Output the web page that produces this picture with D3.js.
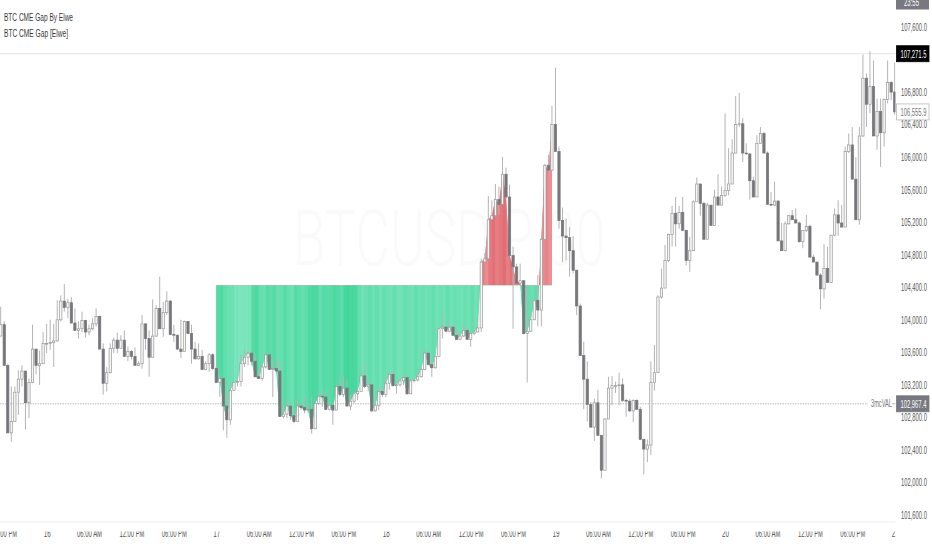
<!DOCTYPE html>
<html>
<head>
    <meta http-equiv="content-type" content="text/html; charset=UTF-8">
    <title>BTC CME Gap</title>
    <script src="https://cdnjs.cloudflare.com/ajax/libs/d3/7.9.0/d3.min.js"></script>
    <style>
        html, body { margin: 0; padding: 0; background: #fff; }
        svg { display: block; }
        text { font-family: "Liberation Sans Narrow", "Liberation Sans", sans-serif; }
        .candles { filter: blur(0.35px); }
        .gap { filter: blur(0.6px); }
    </style>
</head>
<body>

<div class="container"></div>

<script>

    // 30 minute candles. open = previous close
    var firstOpen = 103800;
    var closes = [
        103940,103440,102610,102750,103110,103270,103370,102980,103230,103640,
        103440,103460,103710,103710,103720,103740,104000,104230,104150,104210,
        103960,103870,103890,103990,103850,103890,103950,104040,103640,103220,
        103350,103650,103750,103650,103750,103550,103610,103550,103440,103460,
        103950,103770,103540,103800,104140,103890,104090,104230,103820,103810,
        103640,103610,103980,103830,103640,103520,103550,103390,103460,103570,
        103400,103230,103280,102940,102770,103130,103230,103240,103460,103540,
        103590,103490,103300,103280,103420,103570,103390,103400,103370,102810,
        102840,102940,102820,102750,102940,102920,102890,102900,102660,102970,
        103060,103050,102900,102950,102890,103180,103080,103160,102940,103000,
        103090,103120,103310,103180,103200,102880,102950,103120,103080,103220,
        103330,103190,103200,103250,103290,103090,103250,103260,103300,103390,
        103590,103450,103410,103550,103890,103910,103860,103910,103810,103760,
        103800,103870,103760,103830,103850,103900,104710,104750,105230,105280,
        105480,105420,105790,105510,104790,104650,104450,104480,103830,103860,
        104000,104240,104120,104990,105900,105840,106400,106070,105220,105030,
        105010,104850,104610,104170,103560,103270,102960,102680,102980,102580,
        102150,102780,103160,103190,103190,103200,103010,103000,102880,103010,
        102900,102530,102410,102460,103230,103350,104280,104390,104730,105050,
        105310,105180,105320,105100,104730,104850,105450,105670,105430,104990,
        105410,105160,105510,105410,105530,105590,105670,106050,106400,106410,
        106050,106040,105710,105510,106170,106290,106050,105420,105410,105460,
        104970,104850,105180,105280,105230,105190,104960,105100,105150,104770,
        104710,104550,104380,104630,104460,105040,105290,105190,105140,106070,
        106150,105730,105230,106260,106970,106650,106870,106260,106560,106300,
        106710,106920,106800,106555.9
    ];
    var highs = [
        104160,103980,103460,103180,103180,103380,103440,103370,103280,103940,
        103640,103620,103850,103950,104000,103950,104240,104300,104440,104260,
        104280,104140,103980,104100,104000,103940,104020,104140,104050,103710,
        103420,103710,103780,103840,103810,103870,103670,103630,103660,103490,
        104060,103950,103870,104250,104180,104530,104220,104350,104240,103940,
        103820,104000,103990,103980,103940,103730,103710,103630,103490,103590,
        103590,103440,103340,103300,103100,103220,103230,103300,103570,103630,
        103610,103630,103570,103380,103440,103590,103590,103510,103510,103490,
        102950,103030,102970,102890,103030,102990,103050,102950,103050,102990,
        103100,103140,103120,102990,102970,103200,103300,103300,103260,103080,
        103120,103160,103380,103460,103260,103220,102990,103160,103180,103300,
        103360,103380,103240,103280,103320,103310,103260,103280,103360,103410,
        103630,103610,103510,103550,103920,104080,103940,104000,103940,103890,
        103850,103940,103940,103850,103890,104020,104750,104820,105520,105470,
        105670,105640,106000,105870,105660,104900,104690,104690,104490,104430,
        104060,104260,104550,105020,105920,106030,106630,107100,106130,105380,
        105250,105140,105030,104610,104200,103730,103490,102990,103030,103140,
        102580,102790,103300,103310,103240,103350,103280,103030,103030,103020,
        103020,102930,102540,102530,103490,103690,104300,104630,104920,105060,
        105400,105510,105400,105510,105100,105020,105470,105750,105670,105450,
        105440,105410,105600,105790,105640,106540,106110,106220,106750,106790,
        106480,106170,106040,105760,106270,106370,106310,106070,105570,105700,
        105470,105190,105210,105290,105350,105370,105210,105100,105290,105170,
        104800,104710,104570,104930,104900,105040,105370,105470,105410,106130,
        106290,106370,106000,106370,107260,107030,107300,107190,106720,106720,
        106720,107190,106930,107160
    ];
    var lows = [
        103870,103440,102610,102500,102830,102830,103180,102650,102790,103220,
        103330,103200,103460,103590,103630,103420,103730,103980,104100,104020,
        103960,103870,103770,103850,103780,103810,103870,103920,103640,103080,
        103120,103340,103590,103590,103650,103550,103490,103510,103440,103430,
        103400,103630,103300,103540,103790,103890,103790,104060,103810,103730,
        103630,103530,103610,103830,103460,103510,103510,103380,103380,103360,
        103380,103220,103050,102640,102550,102710,103130,103180,103180,103420,
        103440,103440,103290,103270,103250,103400,103390,103050,103340,102810,
        102790,102790,102770,102730,102750,102890,102850,102850,102600,102660,
        102950,102930,102890,102890,102710,102890,103060,103050,102930,102890,
        102970,103010,103120,103160,103120,102870,102870,102890,103050,103050,
        103140,103180,103090,103180,103200,103080,103090,103230,103240,103290,
        103380,103440,103300,103400,103550,103770,103850,103850,103800,103750,
        103750,103790,103760,103670,103810,103850,103850,104710,104750,105230,
        105270,105290,105430,105490,104790,103890,104440,104430,103820,103230,
        103850,104000,103920,103920,104980,105830,105830,106070,105120,104710,
        104730,104530,104570,104060,103560,102900,102750,102680,102510,102570,
        102050,102150,102780,102950,103100,102950,102990,102810,102870,102740,
        102890,102530,102100,102250,102340,103130,103350,104260,104390,104710,
        104900,104900,105120,105100,104670,104590,104850,105450,105280,104990,
        104990,105160,105160,105410,105410,105510,105530,105670,106050,106370,
        105940,106030,105480,105510,105510,106170,106050,105420,105400,105400,
        104970,104850,104840,105170,105230,105190,104950,104880,105080,104770,
        104710,104540,104130,104260,104450,104450,105030,105030,105140,105140,
        106050,105720,105230,105170,106250,106370,106540,106260,106090,105880,
        106130,106660,106700,106520
    ];

    // CME gap: level, first candle, and how strong each bar's band looks (0-100)
    var gapLevel = 104425;
    var gapStart = 61;
    var gapStrength = [
        70,80,55,40,35,15,10,10,10,20,
        70,85,50,40,70,60,70,40,50,70,
        45,35,70,60,45,60,80,90,85,50,
        70,65,70,85,75,60,95,100,95,90,
        50,30,40,55,35,50,30,45,35,30,
        45,30,30,45,35,30,50,35,40,30,
        35,50,30,40,30,50,30,40,35,30,
        40,30,50,30,40,60,40,70,85,60,
        75,90,60,80,55,70,60,40,50,40,
        60,70,40,50,30,60
    ];

    var priceTicks = [101600,102000,102400,102800,103200,103600,104000,104400,104800,105200,105600,106000,106400,106800,107600];
    var timeLabels = ['06:00 PM','16','06:00 AM','12:00 PM','06:00 PM','17','06:00 AM','12:00 PM','06:00 PM','18','06:00 AM','12:00 PM','06:00 PM','19','06:00 AM','12:00 PM','06:00 PM','20','06:00 AM','12:00 PM','06:00 PM','21'];
    var timeTickFirst = 1, timeTickStep = 12;

    var lastHigh = 107271.5, lastClose = 106555.9, valLevel = 102967.4;
    var titles = ['BTC CME Gap By Elwe', 'BTC CME Gap [Elwe]'];

    var width = 932, height = 550, paneRight = 895.5, paneBottom = 522;

    var svg = d3.select('.container').append('svg').attr('width', width).attr('height', height);

    var x = d3.scaleLinear().domain([0, closes.length - 1]).range([0.7, 894.7]);
    var y = d3.scaleLinear().domain([101600, 107600]).range([515, 27]);

    var opens = closes.map(function (c, i) { return i ? closes[i - 1] : firstOpen; });

    var defs = svg.append('defs');
    defs.append('clipPath').attr('id', 'pane').append('rect')
        .attr('x', 0).attr('y', 0).attr('width', paneRight).attr('height', height);
    defs.append('clipPath').attr('id', 'above').append('rect')
        .attr('x', 0).attr('y', 0).attr('width', paneRight).attr('height', y(gapLevel));
    defs.append('clipPath').attr('id', 'below').append('rect')
        .attr('x', 0).attr('y', y(gapLevel)).attr('width', paneRight).attr('height', paneBottom - y(gapLevel));

    // watermark
    svg.append('text').attr('x', 293).attr('y', 265)
        .attr('font-size', 78)
        .attr('textLength', 312).attr('lengthAdjust', 'spacingAndGlyphs')
        .style('font-family', 'Roboto, sans-serif')
        .style('font-weight', 300)
        .attr('fill', '#fafafa')
        .text('BTCUSD.P 30');

    // price lines
    svg.append('line').attr('x1', 0).attr('x2', paneRight).attr('y1', y(lastHigh)).attr('y2', y(lastHigh))
        .attr('stroke', '#e4e4e4').attr('stroke-width', 1);
    svg.append('line').attr('x1', 0).attr('x2', 868).attr('y1', y(valLevel)).attr('y2', y(valLevel))
        .attr('stroke', '#a8a8a8').attr('stroke-width', 0.8).attr('stroke-dasharray', '1.5 1');
    svg.append('line').attr('x1', 892).attr('x2', paneRight).attr('y1', y(valLevel)).attr('y2', y(valLevel))
        .attr('stroke', '#a8a8a8').attr('stroke-width', 0.8);

    // gap fill, one band per bar between the level and the close
    var gapBars = gapStrength.slice(0, -1).map(function (s, k) {
        return { i: gapStart + k, strength: s };
    });
    var greenShade = d3.scaleLinear().domain([0, 100]).range(['#84e7c2', '#42d69b']);
    var redShade = d3.scaleLinear().domain([0, 100]).range(['#efa3a5', '#e0676e']);
    var band = d3.area()
        .x(function (i) { return x(i); })
        .y0(y(gapLevel))
        .y1(function (i) { return y(closes[i]); });
    var gapBase = d3.range(gapStart, gapStart + gapStrength.length);

    var gapLayer = svg.append('g').attr('class', 'gap');
    gapLayer.append('path').attr('d', band(gapBase)).attr('fill', greenShade(50)).attr('clip-path', 'url(#below)');
    gapLayer.append('path').attr('d', band(gapBase)).attr('fill', redShade(50)).attr('clip-path', 'url(#above)');
    gapLayer.selectAll('.green').data(gapBars).enter().append('path')
        .attr('class', 'green')
        .attr('clip-path', 'url(#below)')
        .attr('fill', function (d) { return greenShade(d.strength); })
        .attr('d', function (d) { return band([d.i, d.i + 1]); });
    gapLayer.selectAll('.red').data(gapBars).enter().append('path')
        .attr('class', 'red')
        .attr('clip-path', 'url(#above)')
        .attr('fill', function (d) { return redShade(d.strength); })
        .attr('d', function (d) { return band([d.i, d.i + 1]); });

    // candles
    var bodyWidth = 2.3;
    var candles = svg.append('g').attr('class', 'candles').attr('clip-path', 'url(#pane)')
        .selectAll('g').data(d3.range(closes.length)).enter().append('g');

    candles.append('line')
        .attr('x1', function (i) { return x(i); })
        .attr('x2', function (i) { return x(i); })
        .attr('y1', function (i) { return y(highs[i]); })
        .attr('y2', function (i) { return y(lows[i]); })
        .attr('stroke', '#b4b4b4').attr('stroke-width', 1);

    candles.append('rect')
        .attr('x', function (i) { return x(i) - bodyWidth / 2; })
        .attr('width', bodyWidth)
        .attr('y', function (i) { return y(Math.max(opens[i], closes[i])); })
        .attr('height', function (i) { return Math.max(0.8, Math.abs(y(opens[i]) - y(closes[i]))); })
        .attr('fill', function (i) { return closes[i] >= opens[i] ? '#f8f8f8' : '#77777b'; })
        .attr('stroke', function (i) { return closes[i] >= opens[i] ? '#989898' : '#77777b'; })
        .attr('stroke-width', 0.7);

    // axes
    var squeeze = function (sel, w) {
        sel.attr('textLength', function () { return this.textContent.length <= 2 ? 7 : w; })
           .attr('lengthAdjust', 'spacingAndGlyphs');
    };

    var yAxis = d3.axisRight(y).tickValues(priceTicks).tickSize(0).tickPadding(0).tickFormat(d3.format(',.1f'));
    svg.append('g').attr('transform', 'translate(901,0)').call(yAxis)
        .call(function (g) { g.select('.domain').remove(); })
        .selectAll('text')
        .attr('font-size', 10.5).attr('fill', '#555')
        .style('font-family', '"Liberation Sans Narrow", sans-serif')
        .call(squeeze, 26);

    svg.append('line').attr('x1', 0).attr('x2', paneRight).attr('y1', paneBottom).attr('y2', paneBottom)
        .attr('stroke', '#ececec');

    var timeTicks = timeLabels.map(function (d, k) { return timeTickFirst + k * timeTickStep; });
    var xAxis = d3.axisBottom(x).tickValues(timeTicks).tickSize(0).tickPadding(0)
        .tickFormat(function (d, k) { return timeLabels[k]; });
    svg.append('g').attr('transform', 'translate(0,531.5)').attr('clip-path', 'url(#pane)').call(xAxis)
        .call(function (g) { g.select('.domain').remove(); })
        .selectAll('text')
        .attr('font-size', 10.5).attr('fill', '#555').attr('dy', '0.55em')
        .style('font-family', '"Liberation Sans Narrow", sans-serif')
        .call(squeeze, 25);

    // legend
    svg.selectAll('.title').data(titles).enter().append('text')
        .attr('class', 'title')
        .attr('x', 4)
        .attr('y', function (d, k) { return 21 + k * 16; })
        .attr('font-size', 11).attr('fill', '#3a3a3a')
        .attr('textLength', function (d, k) { return k ? 64 : 69; })
        .attr('lengthAdjust', 'spacingAndGlyphs')
        .text(function (d) { return d; });

    // price labels on the scale
    var priceLabel = function (value, fill, stroke, color) {
        var cy = y(value);
        svg.append('rect').attr('x', 896.5).attr('y', cy - 8).attr('width', 32.5).attr('height', 16)
            .attr('fill', fill).attr('stroke', stroke).attr('stroke-width', 0.8);
        svg.append('text').attr('x', 900.5).attr('y', cy + 4)
            .attr('font-size', 10.5).attr('fill', color)
            .attr('textLength', 26).attr('lengthAdjust', 'spacingAndGlyphs')
            .text(d3.format(',.1f')(value));
    };
    priceLabel(lastHigh, '#000', '#000', '#fff');
    priceLabel(lastClose, '#fff', '#b8b8b8', '#777');
    priceLabel(valLevel, '#787880', '#787880', '#fff');

    svg.append('text').attr('x', 871).attr('y', y(valLevel) + 3.5)
        .attr('font-size', 10).attr('fill', '#777')
        .attr('textLength', 21).attr('lengthAdjust', 'spacingAndGlyphs')
        .text('3mcVAL');

    // countdown box cut by the top edge
    svg.append('rect').attr('x', 896).attr('y', 0).attr('width', 33).attr('height', 9.5).attr('fill', '#787880');
    svg.append('text').attr('x', 904).attr('y', 5.5)
        .attr('font-size', 10).attr('fill', '#fff')
        .attr('textLength', 15).attr('lengthAdjust', 'spacingAndGlyphs')
        .text('23:55');

</script>

</body>
</html>
